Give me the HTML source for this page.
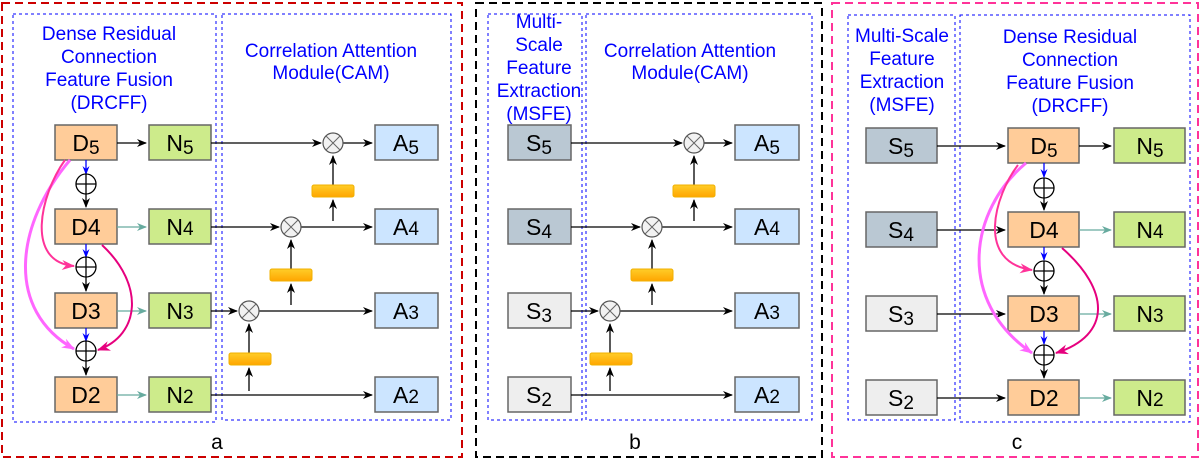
<!DOCTYPE html>
<html><head><meta charset="utf-8"><style>
html,body{margin:0;padding:0;background:#fff;}
svg{display:block;font-family:"Liberation Sans",sans-serif;}
</style></head><body>
<svg width="1200" height="461" viewBox="0 0 1200 461" xmlns="http://www.w3.org/2000/svg">
<defs>
<marker id="ak" markerWidth="10" markerHeight="8" refX="9" refY="4" orient="auto" markerUnits="userSpaceOnUse"><path d="M0,0 L10,4 L0,8 L3,4z" fill="#000"/></marker>
<marker id="at" markerWidth="10" markerHeight="8" refX="9" refY="4" orient="auto" markerUnits="userSpaceOnUse"><path d="M0,0 L10,4 L0,8 L3,4z" fill="#67ab9f"/></marker>
<marker id="ab" markerWidth="9" markerHeight="7" refX="8" refY="3.5" orient="auto" markerUnits="userSpaceOnUse"><path d="M0,0 L9,3.5 L0,7 L3,3.5z" fill="#0000ff"/></marker>
<marker id="av" markerWidth="14" markerHeight="10" refX="12" refY="5" orient="auto" markerUnits="userSpaceOnUse"><path d="M0,0 L13,5 L0,10 L4,5z" fill="#ff66ff"/></marker>
<marker id="am" markerWidth="14" markerHeight="10" refX="12" refY="5" orient="auto" markerUnits="userSpaceOnUse"><path d="M0,0 L13,5 L0,10 L4,5z" fill="#ff3399"/></marker>
<marker id="ad" markerWidth="14" markerHeight="10" refX="12" refY="5" orient="auto" markerUnits="userSpaceOnUse"><path d="M0,0 L13,5 L0,10 L4,5z" fill="#e6007e"/></marker>
<g id="plus"><circle cx="0" cy="0" r="10" fill="#fff" stroke="#000" stroke-width="1.3"/><path d="M-10,0H10M0,-10V10" stroke="#000" stroke-width="1.3"/></g>
<g id="times"><circle cx="0" cy="0" r="10" fill="#f2f2f2" stroke="#555" stroke-width="1.2"/><path d="M-7,-7L7,7M-7,7L7,-7" stroke="#666" stroke-width="1"/></g>
<linearGradient id="og" x1="0" y1="0" x2="0" y2="1"><stop offset="0" stop-color="#ffcd28"/><stop offset="1" stop-color="#ffa500"/></linearGradient>
</defs>

<rect x="2" y="3" width="460" height="454" fill="none" stroke="#cc0000" stroke-width="2" stroke-dasharray="8,5"/>
<rect x="476" y="3" width="346" height="454" fill="none" stroke="#000" stroke-width="2" stroke-dasharray="8,5"/>
<rect x="832" y="3" width="366" height="454" fill="none" stroke="#ff3399" stroke-width="2" stroke-dasharray="8,5"/>
<g fill="none" stroke="#0000ff" stroke-width="1" stroke-dasharray="3,3">
<rect x="13" y="14" width="203" height="408"/><rect x="222" y="14" width="229" height="406"/>
<rect x="488" y="14" width="94" height="406"/><rect x="586" y="14" width="226" height="406"/>
<rect x="848" y="15" width="107" height="405"/><rect x="960" y="15" width="230" height="407"/>
</g>

<g font-size="19" fill="#0000ff" text-anchor="middle">
<text x="109" y="40">Dense Residual</text><text x="109" y="63">Connection</text><text x="109" y="86">Feature Fusion</text><text x="109" y="109">(DRCFF)</text>
<text x="331" y="57">Correlation Attention</text><text x="331" y="79">Module(CAM)</text>
<text x="539" y="28">Multi-</text><text x="539" y="51">Scale</text><text x="539" y="74">Feature</text><text x="539" y="97">Extraction</text><text x="539" y="120">(MSFE)</text>
<text x="690" y="57">Correlation Attention</text><text x="690" y="79">Module(CAM)</text>
<text x="902" y="42">Multi-Scale</text><text x="902" y="65">Feature</text><text x="902" y="88">Extraction</text><text x="902" y="111">(MSFE)</text>
<text x="1070" y="43">Dense Residual</text><text x="1070" y="66">Connection</text><text x="1070" y="89">Feature Fusion</text><text x="1070" y="112">(DRCFF)</text>
</g>
<g font-size="21" fill="#000" text-anchor="middle">
<text x="217" y="449">a</text><text x="635" y="449">b</text><text x="1017" y="449">c</text>
</g>

<!-- Panel a -->
<g stroke="#666" stroke-width="1.5">
<rect x="55" y="125" width="62" height="35" fill="#ffcc99"/><rect x="55" y="209" width="62" height="35" fill="#ffcc99"/>
<rect x="55" y="293" width="62" height="35" fill="#ffcc99"/><rect x="55" y="377" width="62" height="35" fill="#ffcc99"/>
<rect x="149" y="125" width="62" height="35" fill="#cdeb8b"/><rect x="149" y="209" width="62" height="35" fill="#cdeb8b"/>
<rect x="149" y="293" width="62" height="35" fill="#cdeb8b"/><rect x="149" y="377" width="62" height="35" fill="#cdeb8b"/>
<rect x="375" y="125" width="63" height="35" fill="#cce5ff"/><rect x="375" y="209" width="63" height="35" fill="#cce5ff"/>
<rect x="375" y="293" width="63" height="35" fill="#cce5ff"/><rect x="375" y="377" width="63" height="35" fill="#cce5ff"/>
</g>
<g fill="none" stroke-width="1.3">
<path d="M117,143H146" stroke="#000" marker-end="url(#ak)"/>
<path d="M117,227H146" stroke="#67ab9f" marker-end="url(#at)"/>
<path d="M117,311H146" stroke="#67ab9f" marker-end="url(#at)"/>
<path d="M117,395H146" stroke="#67ab9f" marker-end="url(#at)"/>
<path d="M86,160V174" stroke="#0000ff" marker-end="url(#ab)"/>
<path d="M86,244V257" stroke="#0000ff" marker-end="url(#ab)"/>
<path d="M86,328V341" stroke="#0000ff" marker-end="url(#ab)"/>
<path d="M86,194V207" stroke="#000" marker-end="url(#ak)"/>
<path d="M86,277V291" stroke="#000" marker-end="url(#ak)"/>
<path d="M86,361V375" stroke="#000" marker-end="url(#ak)"/>
<path d="M70,160 C15,225 5,310 74,349" stroke="#ff66ff" stroke-width="3" marker-end="url(#av)"/>
<path d="M65,160 C40,195 25,262 74,266" stroke="#ff3399" stroke-width="2" marker-end="url(#am)"/>
<path d="M102,245 C145,285 140,335 98,350" stroke="#e6007e" stroke-width="2" marker-end="url(#ad)"/>
<path d="M211,143H321" stroke="#000" marker-end="url(#ak)"/>
<path d="M343,143H372" stroke="#000" marker-end="url(#ak)"/>
<path d="M211,227H279" stroke="#000" marker-end="url(#ak)"/>
<path d="M301,227H372" stroke="#000" marker-end="url(#ak)"/>
<path d="M211,311H237" stroke="#000" marker-end="url(#ak)"/>
<path d="M259,311H372" stroke="#000" marker-end="url(#ak)"/>
<path d="M211,395H372" stroke="#000" marker-end="url(#ak)"/>
<path d="M333,185V156" stroke="#000" marker-end="url(#ak)"/>
<path d="M333,221V200" stroke="#000" marker-end="url(#ak)"/>
<path d="M291,269V240" stroke="#000" marker-end="url(#ak)"/>
<path d="M291,305V284" stroke="#000" marker-end="url(#ak)"/>
<path d="M249,353V324" stroke="#000" marker-end="url(#ak)"/>
<path d="M249,391V368" stroke="#000" marker-end="url(#ak)"/>
</g>
<use href="#plus" x="86" y="184"/><use href="#plus" x="86" y="267"/><use href="#plus" x="86" y="351"/>
<use href="#times" x="333" y="143"/><use href="#times" x="291" y="227"/><use href="#times" x="249" y="311"/>
<g fill="url(#og)" stroke="#f0b000" stroke-width="1"><rect x="312" y="185" width="42" height="12" rx="2"/><rect x="270" y="269" width="42" height="12" rx="2"/><rect x="229" y="353" width="42" height="12" rx="2"/></g>

<!-- Panel b -->
<g stroke="#666" stroke-width="1.5">
<rect x="508" y="125" width="63" height="35" fill="#bac8d3"/><rect x="508" y="209" width="63" height="35" fill="#bac8d3"/>
<rect x="508" y="293" width="63" height="35" fill="#eeeeee"/><rect x="508" y="377" width="63" height="35" fill="#eeeeee"/>
<rect x="735" y="125" width="64" height="35" fill="#cce5ff"/><rect x="735" y="209" width="64" height="35" fill="#cce5ff"/>
<rect x="735" y="293" width="64" height="35" fill="#cce5ff"/><rect x="735" y="377" width="64" height="35" fill="#cce5ff"/>
</g>
<g fill="none" stroke-width="1.3" stroke="#000">
<path d="M571,143H682" marker-end="url(#ak)"/><path d="M704,143H732" marker-end="url(#ak)"/>
<path d="M571,227H640" marker-end="url(#ak)"/><path d="M662,227H732" marker-end="url(#ak)"/>
<path d="M571,311H598" marker-end="url(#ak)"/><path d="M620,311H732" marker-end="url(#ak)"/>
<path d="M571,395H732" marker-end="url(#ak)"/>
<path d="M694,185V156" marker-end="url(#ak)"/><path d="M694,221V200" marker-end="url(#ak)"/>
<path d="M652,269V240" marker-end="url(#ak)"/><path d="M652,305V284" marker-end="url(#ak)"/>
<path d="M610,353V324" marker-end="url(#ak)"/><path d="M610,391V368" marker-end="url(#ak)"/>
</g>
<use href="#times" x="694" y="143"/><use href="#times" x="652" y="227"/><use href="#times" x="610" y="311"/>
<g fill="url(#og)" stroke="#f0b000" stroke-width="1"><rect x="673" y="185" width="42" height="12" rx="2"/><rect x="631" y="269" width="42" height="12" rx="2"/><rect x="590" y="353" width="42" height="12" rx="2"/></g>

<!-- Panel c -->
<g stroke="#666" stroke-width="1.5">
<rect x="866" y="128" width="71" height="35" fill="#bac8d3"/><rect x="866" y="212" width="71" height="35" fill="#bac8d3"/>
<rect x="866" y="296" width="71" height="35" fill="#eeeeee"/><rect x="866" y="380" width="71" height="35" fill="#eeeeee"/>
<rect x="1008" y="128" width="71" height="35" fill="#ffcc99"/><rect x="1008" y="212" width="71" height="35" fill="#ffcc99"/>
<rect x="1008" y="296" width="71" height="35" fill="#ffcc99"/><rect x="1008" y="380" width="71" height="35" fill="#ffcc99"/>
<rect x="1114" y="128" width="71" height="35" fill="#cdeb8b"/><rect x="1114" y="212" width="71" height="35" fill="#cdeb8b"/>
<rect x="1114" y="296" width="71" height="35" fill="#cdeb8b"/><rect x="1114" y="380" width="71" height="35" fill="#cdeb8b"/>
</g>
<g fill="none" stroke-width="1.3">
<path d="M937,146H1005" stroke="#000" marker-end="url(#ak)"/>
<path d="M937,230H1005" stroke="#000" marker-end="url(#ak)"/>
<path d="M937,314H1005" stroke="#000" marker-end="url(#ak)"/>
<path d="M937,398H1005" stroke="#000" marker-end="url(#ak)"/>
<path d="M1079,146H1111" stroke="#000" marker-end="url(#ak)"/>
<path d="M1079,230H1111" stroke="#67ab9f" marker-end="url(#at)"/>
<path d="M1079,314H1111" stroke="#67ab9f" marker-end="url(#at)"/>
<path d="M1079,398H1111" stroke="#67ab9f" marker-end="url(#at)"/>
<path d="M1044,163V177" stroke="#0000ff" marker-end="url(#ab)"/>
<path d="M1044,247V260" stroke="#0000ff" marker-end="url(#ab)"/>
<path d="M1044,331V344" stroke="#0000ff" marker-end="url(#ab)"/>
<path d="M1044,198V210" stroke="#000" marker-end="url(#ak)"/>
<path d="M1044,281V294" stroke="#000" marker-end="url(#ak)"/>
<path d="M1044,365V378" stroke="#000" marker-end="url(#ak)"/>
<path d="M1026,163 C970,210 955,300 1032,353" stroke="#ff66ff" stroke-width="3" marker-end="url(#av)"/>
<path d="M1018,165 C995,195 975,262 1032,270" stroke="#ff3399" stroke-width="2" marker-end="url(#am)"/>
<path d="M1062,248 C1110,290 1112,335 1056,353" stroke="#e6007e" stroke-width="2" marker-end="url(#ad)"/>
</g>
<use href="#plus" x="1044" y="188"/><use href="#plus" x="1044" y="271"/><use href="#plus" x="1044" y="355"/>

<g font-size="23" fill="#000" text-anchor="middle">
<text x="86" y="151">D<tspan font-size="19" dy="3">5</tspan></text><text x="86" y="235">D4</text><text x="86" y="319">D3</text><text x="86" y="403">D2</text>
<text x="180" y="151">N<tspan font-size="19" dy="3">5</tspan></text><text x="180" y="235">N<tspan font-size="19">4</tspan></text><text x="180" y="319">N<tspan font-size="19">3</tspan></text><text x="180" y="403">N<tspan font-size="19">2</tspan></text>
<text x="406" y="151">A<tspan font-size="19" dy="3">5</tspan></text><text x="406" y="235">A<tspan font-size="19">4</tspan></text><text x="406" y="319">A<tspan font-size="19">3</tspan></text><text x="406" y="403">A<tspan font-size="19">2</tspan></text>
<text x="539" y="151">S<tspan font-size="19" dy="3">5</tspan></text><text x="539" y="235">S<tspan font-size="19" dy="3">4</tspan></text><text x="539" y="319">S<tspan font-size="19" dy="3">3</tspan></text><text x="539" y="403">S<tspan font-size="19" dy="3">2</tspan></text>
<text x="767" y="151">A<tspan font-size="19" dy="3">5</tspan></text><text x="767" y="235">A<tspan font-size="19">4</tspan></text><text x="767" y="319">A<tspan font-size="19">3</tspan></text><text x="767" y="403">A<tspan font-size="19">2</tspan></text>
<text x="901" y="154">S<tspan font-size="19" dy="3">5</tspan></text><text x="901" y="238">S<tspan font-size="19" dy="3">4</tspan></text><text x="901" y="322">S<tspan font-size="19" dy="3">3</tspan></text><text x="901" y="406">S<tspan font-size="19" dy="3">2</tspan></text>
<text x="1044" y="154">D<tspan font-size="19" dy="3">5</tspan></text><text x="1044" y="238">D4</text><text x="1044" y="322">D3</text><text x="1044" y="406">D2</text>
<text x="1150" y="154">N<tspan font-size="19" dy="3">5</tspan></text><text x="1150" y="238">N<tspan font-size="19">4</tspan></text><text x="1150" y="322">N<tspan font-size="19">3</tspan></text><text x="1150" y="406">N<tspan font-size="19">2</tspan></text>
</g>
</svg>
</body></html>
